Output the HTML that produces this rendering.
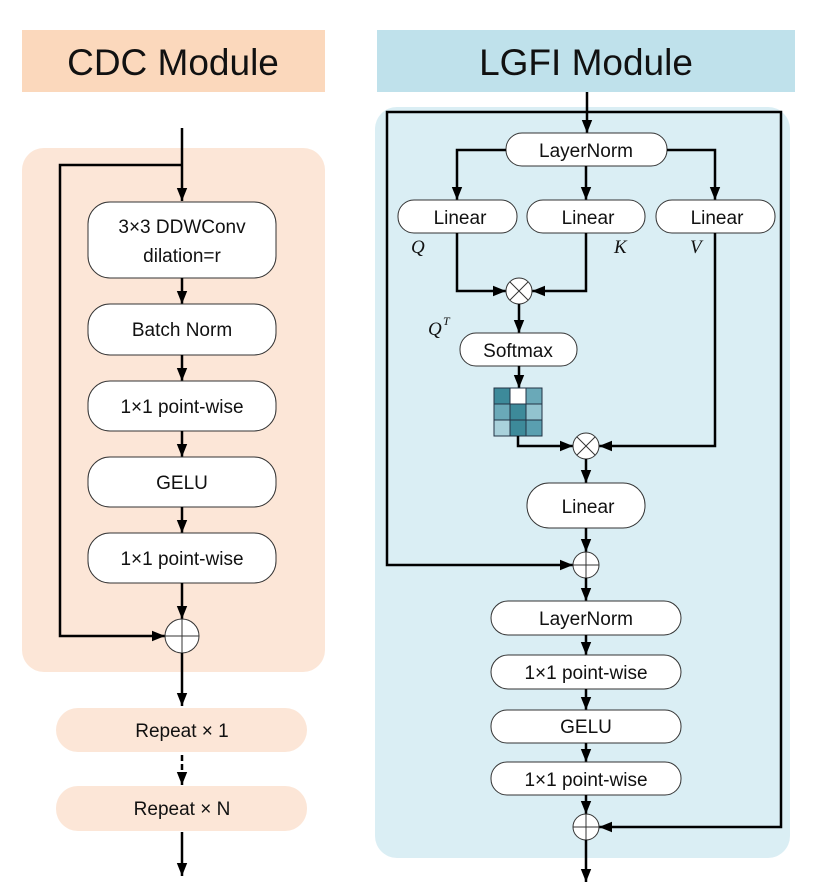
<!DOCTYPE html>
<html><head><meta charset="utf-8"><style>
html,body{margin:0;padding:0;background:#fff;}
svg{display:block;}
text{font-family:"Liberation Sans",sans-serif;fill:#111;}
</style></head><body>
<svg width="825" height="895" viewBox="0 0 825 895" xmlns="http://www.w3.org/2000/svg">
<defs>
<marker id="a" viewBox="0 0 10 10" refX="10" refY="5" markerWidth="13" markerHeight="13" orient="auto" markerUnits="userSpaceOnUse">
<path d="M0,1 L10,5 L0,9 z" fill="#000"/>
</marker>
</defs>
<style>
.l{stroke:#000;stroke-width:2.5;fill:none;}
.b{fill:#fff;stroke:#333;stroke-width:1;}
.t{font-size:19px;text-anchor:middle;}
.c{fill:#fff;stroke:#333;stroke-width:1;}
.q{font-family:"Liberation Serif",serif;font-style:italic;font-size:19px;}
</style>
<!-- headers -->
<rect x="22" y="30" width="303" height="62" fill="#fbd8bc"/>
<text x="173" y="75" style="font-size:37px;text-anchor:middle">CDC Module</text>
<rect x="377" y="30" width="418" height="62" fill="#bfe1eb"/>
<text x="586" y="75" style="font-size:37px;text-anchor:middle">LGFI Module</text>
<!-- panels -->
<rect x="22" y="148" width="303" height="524" rx="22" fill="#fce6d7"/>
<rect x="375" y="107" width="415" height="751" rx="22" fill="#daeef4"/>

<!-- CDC -->
<line class="l" x1="182" y1="128" x2="182" y2="201" marker-end="url(#a)"/>
<polyline class="l" points="182,165 60,165 60,636 165,636" marker-end="url(#a)"/>
<rect class="b" x="88" y="202" width="188" height="76" rx="22"/>
<text class="t" x="182" y="233">3×3 DDWConv</text>
<text class="t" x="182" y="262">dilation=r</text>
<line class="l" x1="182" y1="278" x2="182" y2="304" marker-end="url(#a)"/>
<rect class="b" x="88" y="304" width="188" height="51" rx="22"/>
<text class="t" x="182" y="336">Batch Norm</text>
<line class="l" x1="182" y1="355" x2="182" y2="381" marker-end="url(#a)"/>
<rect class="b" x="88" y="381" width="188" height="50" rx="22"/>
<text class="t" x="182" y="413">1×1 point-wise</text>
<line class="l" x1="182" y1="431" x2="182" y2="457" marker-end="url(#a)"/>
<rect class="b" x="88" y="457" width="188" height="50" rx="22"/>
<text class="t" x="182" y="489">GELU</text>
<line class="l" x1="182" y1="507" x2="182" y2="533" marker-end="url(#a)"/>
<rect class="b" x="88" y="533" width="188" height="50" rx="22"/>
<text class="t" x="182" y="565">1×1 point-wise</text>
<line class="l" x1="182" y1="583" x2="182" y2="619" marker-end="url(#a)"/>
<circle class="c" cx="182" cy="636" r="17"/>
<line x1="165" y1="636" x2="199" y2="636" stroke="#333"/><line x1="182" y1="619" x2="182" y2="653" stroke="#333"/>
<line class="l" x1="182" y1="653" x2="182" y2="706" marker-end="url(#a)"/>
<rect x="56" y="708" width="251" height="44" rx="22" fill="#fce6d7"/>
<text class="t" x="182" y="737">Repeat × 1</text>
<line class="l" x1="182" y1="755" x2="182" y2="785" stroke-dasharray="6,3" marker-end="url(#a)"/>
<rect x="56" y="786" width="251" height="45" rx="22" fill="#fce6d7"/>
<text class="t" x="182" y="815">Repeat × N</text>
<line class="l" x1="182" y1="832" x2="182" y2="876" marker-end="url(#a)"/>

<!-- LGFI -->
<line class="l" x1="587" y1="92" x2="587" y2="133" marker-end="url(#a)"/>
<polyline class="l" points="587,112 387,112 387,565 573,565" marker-end="url(#a)"/>
<polyline class="l" points="587,112 781,112 781,827 599,827" marker-end="url(#a)"/>
<rect class="b" x="506" y="133" width="161" height="33" rx="16"/>
<text class="t" x="586" y="157">LayerNorm</text>
<polyline class="l" points="506,150 457,150 457,200" marker-end="url(#a)"/>
<polyline class="l" points="667,150 715,150 715,200" marker-end="url(#a)"/>
<line class="l" x1="586" y1="166" x2="586" y2="200" marker-end="url(#a)"/>
<rect class="b" x="398" y="200" width="119" height="33" rx="16"/>
<text class="t" x="460" y="224">Linear</text>
<rect class="b" x="527" y="200" width="118" height="33" rx="16"/>
<text class="t" x="588" y="224">Linear</text>
<rect class="b" x="656" y="200" width="119" height="33" rx="16"/>
<text class="t" x="717" y="224">Linear</text>
<text class="q" x="411" y="253">Q</text>
<text class="q" x="614" y="253">K</text>
<text class="q" x="690" y="253">V</text>
<polyline class="l" points="457,233 457,291 506,291" marker-end="url(#a)"/>
<polyline class="l" points="586,233 586,291 532,291" marker-end="url(#a)"/>
<circle class="c" cx="519" cy="291" r="13"/>
<line x1="510" y1="282" x2="528" y2="300" stroke="#333"/><line x1="528" y1="282" x2="510" y2="300" stroke="#333"/>
<line class="l" x1="519" y1="304" x2="519" y2="333" marker-end="url(#a)"/>
<text class="q" x="428" y="335">Q</text><text class="q" x="443" y="325" style="font-size:12px">T</text>
<rect class="b" x="460" y="333" width="117" height="33" rx="16"/>
<text class="t" x="518" y="357">Softmax</text>
<line class="l" x1="519" y1="366" x2="519" y2="388" marker-end="url(#a)"/>
<g stroke="#234" stroke-width="1">
<rect x="494" y="388" width="16" height="16" fill="#3d8a9a"/>
<rect x="510" y="388" width="16" height="16" fill="#ffffff"/>
<rect x="526" y="388" width="16" height="16" fill="#6aa9b8"/>
<rect x="494" y="404" width="16" height="16" fill="#6aa9b8"/>
<rect x="510" y="404" width="16" height="16" fill="#3d8a9a"/>
<rect x="526" y="404" width="16" height="16" fill="#92c3cf"/>
<rect x="494" y="420" width="16" height="16" fill="#a9d1db"/>
<rect x="510" y="420" width="16" height="16" fill="#3d8a9a"/>
<rect x="526" y="420" width="16" height="16" fill="#5a9fb0"/>
</g>
<polyline class="l" points="518,436 518,446 573,446" marker-end="url(#a)"/>
<polyline class="l" points="715,233 715,446 599,446" marker-end="url(#a)"/>
<circle class="c" cx="586" cy="446" r="13"/>
<line x1="577" y1="437" x2="595" y2="455" stroke="#333"/><line x1="595" y1="437" x2="577" y2="455" stroke="#333"/>
<line class="l" x1="586" y1="459" x2="586" y2="483" marker-end="url(#a)"/>
<rect class="b" x="527" y="483" width="118" height="45" rx="22"/>
<text class="t" x="588" y="513">Linear</text>
<line class="l" x1="586" y1="528" x2="586" y2="552" marker-end="url(#a)"/>
<circle class="c" cx="586" cy="565" r="13"/>
<line x1="573" y1="565" x2="599" y2="565" stroke="#333"/><line x1="586" y1="552" x2="586" y2="578" stroke="#333"/>
<line class="l" x1="586" y1="578" x2="586" y2="601" marker-end="url(#a)"/>
<rect class="b" x="491" y="601" width="190" height="34" rx="17"/>
<text class="t" x="586" y="625">LayerNorm</text>
<line class="l" x1="586" y1="635" x2="586" y2="655" marker-end="url(#a)"/>
<rect class="b" x="491" y="655" width="190" height="34" rx="17"/>
<text class="t" x="586" y="679">1×1 point-wise</text>
<line class="l" x1="586" y1="689" x2="586" y2="710" marker-end="url(#a)"/>
<rect class="b" x="491" y="710" width="190" height="33" rx="16"/>
<text class="t" x="586" y="733">GELU</text>
<line class="l" x1="586" y1="743" x2="586" y2="762" marker-end="url(#a)"/>
<rect class="b" x="491" y="762" width="190" height="33" rx="16"/>
<text class="t" x="586" y="786">1×1 point-wise</text>
<line class="l" x1="586" y1="795" x2="586" y2="814" marker-end="url(#a)"/>
<circle class="c" cx="586" cy="827" r="13"/>
<line x1="573" y1="827" x2="599" y2="827" stroke="#333"/><line x1="586" y1="814" x2="586" y2="840" stroke="#333"/>
<line class="l" x1="586" y1="840" x2="586" y2="882" marker-end="url(#a)"/>
</svg>
</body></html>
